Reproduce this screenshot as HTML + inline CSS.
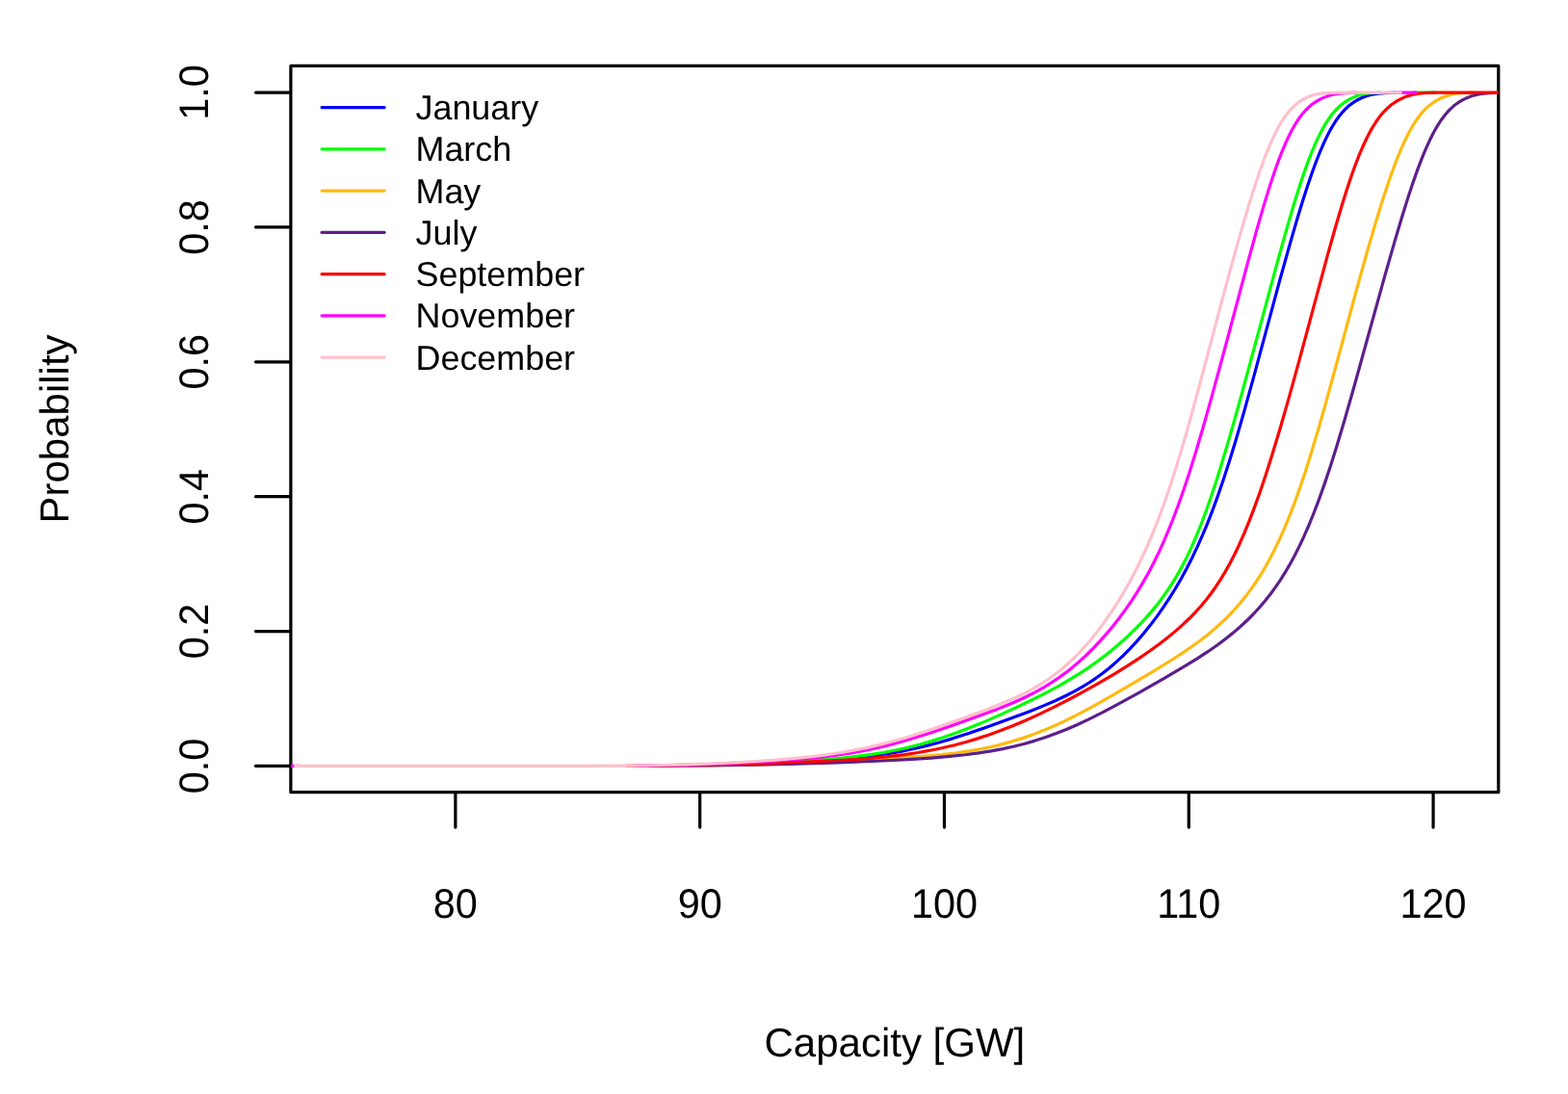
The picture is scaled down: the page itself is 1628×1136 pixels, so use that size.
<!DOCTYPE html>
<html lang="en">
<head>
<meta charset="utf-8">
<title>Capacity probability</title>
<style>
html,body{margin:0;padding:0;background:#fff;}
body{width:1628px;height:1136px;overflow:hidden;}
svg{display:block;}
</style>
</head>
<body>
<svg width="1628" height="1136" viewBox="0 0 1628 1136" font-family="'Liberation Sans', Arial, Helvetica, sans-serif" font-size="42" fill="#000">
<rect x="0" y="0" width="1628" height="1136" fill="#fff"/>
<defs><clipPath id="plotclip"><rect x="301.9" y="68.3" width="1253.9" height="754.4"/></clipPath></defs>
<g clip-path="url(#plotclip)" fill="none" stroke-width="3.2" stroke-linecap="round" stroke-linejoin="round">
<path d="M716.0,794.53 753.0,793.63 795.0,792.19 833.0,790.54 859.0,789.09 878.0,787.70 894.0,786.20 909.0,784.42 923.0,782.38 936.0,780.11 949.0,777.45 962.0,774.39 975.0,770.95 989.0,766.84 1005.0,761.73 1024.0,755.23 1048.0,746.57 1069.0,738.64 1084.0,732.62 1096.0,727.44 1106.0,722.74 1115.0,718.13 1123.0,713.64 1131.0,708.74 1138.0,704.05 1145.0,698.95 1152.0,693.42 1159.0,687.41 1166.0,680.91 1173.0,673.90 1180.0,666.36 1187.0,658.26 1194.0,649.60 1201.0,640.34 1208.0,630.43 1214.0,621.38 1220.0,611.74 1226.0,601.47 1232.0,590.48 1238.0,578.67 1243.0,568.16 1248.0,556.96 1253.0,545.05 1258.0,532.38 1264.0,516.14 1270.0,498.77 1276.0,480.29 1283.0,457.45 1291.0,429.89 1301.0,393.83 1329.0,290.18 1339.0,254.31 1347.0,226.80 1353.0,207.20 1358.0,191.74 1363.0,177.27 1367.0,166.49 1371.0,156.52 1375.0,147.40 1379.0,139.17 1382.0,133.60 1385.0,128.54 1388.0,123.98 1391.0,119.90 1394.0,116.29 1397.0,113.12 1400.0,110.35 1403.0,107.95 1406.0,105.86 1410.0,103.50 1414.0,101.56 1418.0,99.99 1422.0,98.76 1426.0,97.86 1431.0,97.10 1437.0,96.58 1446.0,96.25 1449.0,96.20" stroke="#0000ff"/>
</g>
<g fill="none" stroke="#000" stroke-width="3.2" stroke-linecap="round" stroke-linejoin="round">
<path d="M472.87 823.1V859.1"/>
<path d="M726.67 823.1V859.1"/>
<path d="M980.47 823.1V859.1"/>
<path d="M1234.27 823.1V859.1"/>
<path d="M1488.07 823.1V859.1"/>
<path d="M301.5 795.40H265.5"/>
<path d="M301.5 655.54H265.5"/>
<path d="M301.5 515.68H265.5"/>
<path d="M301.5 375.82H265.5"/>
<path d="M301.5 235.96H265.5"/>
<path d="M301.5 96.10H265.5"/>
<rect x="301.9" y="68.3" width="1253.9" height="754.4"/>
</g>
<g text-anchor="middle" text-rendering="geometricPrecision">
<text transform="translate(472.87 952.9) scale(0.985 1.02)">80</text>
<text transform="translate(726.67 952.9) scale(0.985 1.02)">90</text>
<text transform="translate(980.47 952.9) scale(0.985 1.02)">100</text>
<text transform="translate(1234.27 952.9) scale(0.985 1.02)">110</text>
<text transform="translate(1488.07 952.9) scale(0.985 1.02)">120</text>
<text transform="translate(215.8 795.40) rotate(-90) scale(0.985 1.02)">0.0</text>
<text transform="translate(215.8 655.54) rotate(-90) scale(0.985 1.02)">0.2</text>
<text transform="translate(215.8 515.68) rotate(-90) scale(0.985 1.02)">0.4</text>
<text transform="translate(215.8 375.82) rotate(-90) scale(0.985 1.02)">0.6</text>
<text transform="translate(215.8 235.96) rotate(-90) scale(0.985 1.02)">0.8</text>
<text transform="translate(215.8 96.10) rotate(-90) scale(0.985 1.02)">1.0</text>
<text x="928.85" y="1097">Capacity [GW]</text>
<text transform="translate(70.9 445.50) rotate(-90)">Probability</text>
</g>
<g clip-path="url(#plotclip)" fill="none" stroke-width="3.2" stroke-linecap="round" stroke-linejoin="round">
<path d="M687.0,794.90 722.0,794.22 760.0,793.05 808.0,791.15 838.0,789.66 859.0,788.28 876.0,786.83 891.0,785.21 905.0,783.33 918.0,781.23 931.0,778.74 943.0,776.07 955.0,773.02 967.0,769.60 979.0,765.80 992.0,761.28 1006.0,755.98 1021.0,749.86 1037.0,742.90 1055.0,734.64 1072.0,726.44 1087.0,718.82 1100.0,711.81 1111.0,705.47 1121.0,699.31 1130.0,693.38 1139.0,687.04 1148.0,680.24 1157.0,672.96 1165.0,666.06 1173.0,658.71 1181.0,650.86 1188.0,643.52 1195.0,635.64 1201.0,628.37 1207.0,620.51 1212.0,613.45 1217.0,605.82 1222.0,597.57 1227.0,588.61 1232.0,578.88 1237.0,568.31 1242.0,556.86 1247.0,544.50 1252.0,531.23 1257.0,517.06 1263.0,498.95 1269.0,479.74 1276.0,456.16 1285.0,424.44 1298.0,376.94 1326.0,273.18 1335.0,240.83 1342.0,216.76 1348.0,197.27 1353.0,182.09 1358.0,168.07 1362.0,157.78 1366.0,148.38 1370.0,139.91 1373.0,134.17 1376.0,128.96 1379.0,124.26 1382.0,120.06 1385.0,116.34 1388.0,113.07 1391.0,110.21 1394.0,107.72 1397.0,105.56 1401.0,103.12 1405.0,101.11 1409.0,99.50 1413.0,98.27 1417.0,97.41 1422.0,96.74 1428.0,96.34 1433.0,96.20M1467.0,96.10 1490.0,96.10" stroke="#00ff00"/>
<path d="M772.0,794.30 804.0,793.35 841.0,791.82 905.0,788.60 940.0,786.58 961.0,785.06 978.0,783.48 993.0,781.73 1006.0,779.84 1018.0,777.75 1029.0,775.48 1040.0,772.84 1051.0,769.82 1062.0,766.37 1072.0,762.87 1083.0,758.61 1094.0,753.94 1105.0,748.88 1117.0,742.95 1131.0,735.58 1147.0,726.70 1169.0,713.98 1197.0,697.32 1215.0,686.25 1228.0,677.85 1238.0,671.00 1247.0,664.42 1255.0,658.15 1262.0,652.25 1269.0,645.91 1276.0,639.05 1282.0,632.68 1288.0,625.80 1294.0,618.34 1299.0,611.62 1304.0,604.40 1309.0,596.62 1314.0,588.23 1319.0,579.18 1324.0,569.41 1329.0,558.88 1334.0,547.54 1339.0,535.36 1344.0,522.32 1349.0,508.43 1355.0,490.65 1361.0,471.73 1368.0,448.39 1376.0,420.33 1388.0,376.49 1408.0,302.53 1419.0,263.09 1427.0,235.57 1434.0,212.62 1440.0,194.09 1445.0,179.64 1450.0,166.25 1454.0,156.40 1458.0,147.37 1462.0,139.21 1465.0,133.66 1468.0,128.62 1471.0,124.06 1474.0,119.98 1477.0,116.36 1480.0,113.18 1483.0,110.39 1486.0,107.96 1489.0,105.85 1493.0,103.47 1497.0,101.50 1501.0,99.90 1505.0,98.67 1509.0,97.76 1514.0,97.00 1520.0,96.51 1529.0,96.21 1530.0,96.20" stroke="#ffb90f"/>
<path d="M674.0,795.24 736.0,794.86 784.0,794.21 827.0,793.26 870.0,791.91 911.0,790.25 943.0,788.61 967.0,787.03 986.0,785.44 1002.0,783.76 1016.0,781.95 1029.0,779.90 1041.0,777.66 1052.0,775.26 1063.0,772.50 1074.0,769.35 1085.0,765.79 1096.0,761.82 1107.0,757.45 1118.0,752.69 1130.0,747.10 1144.0,740.12 1160.0,731.67 1182.0,719.54 1210.0,703.62 1229.0,692.47 1243.0,683.86 1254.0,676.70 1264.0,669.74 1273.0,663.02 1281.0,656.59 1288.0,650.53 1295.0,644.02 1301.0,638.00 1307.0,631.53 1313.0,624.55 1319.0,616.98 1324.0,610.16 1329.0,602.83 1334.0,594.94 1339.0,586.43 1344.0,577.25 1349.0,567.36 1354.0,556.70 1359.0,545.25 1364.0,532.98 1369.0,519.90 1375.0,503.12 1381.0,485.23 1388.0,463.07 1396.0,436.31 1406.0,401.28 1437.0,289.39 1448.0,250.86 1456.0,224.01 1462.0,204.87 1467.0,189.78 1472.0,175.65 1476.0,165.15 1480.0,155.42 1484.0,146.54 1488.0,138.52 1491.0,133.09 1494.0,128.15 1497.0,123.70 1500.0,119.72 1503.0,116.19 1506.0,113.08 1509.0,110.36 1512.0,107.99 1515.0,105.92 1519.0,103.59 1523.0,101.65 1527.0,100.08 1531.0,98.84 1535.0,97.91 1540.0,97.13 1546.0,96.59 1555.0,96.24 1560.8,96.16" stroke="#5c1f8c"/>
<path d="M651.0,795.26 699.0,794.89 740.0,794.19 783.0,793.06 831.0,791.39 864.0,789.92 888.0,788.52 907.0,787.07 924.0,785.40 939.0,783.57 953.0,781.49 966.0,779.20 979.0,776.53 991.0,773.69 1003.0,770.48 1015.0,766.89 1027.0,762.92 1039.0,758.57 1052.0,753.46 1065.0,747.94 1079.0,741.60 1094.0,734.38 1110.0,726.24 1126.0,717.69 1142.0,708.71 1157.0,699.87 1171.0,691.18 1183.0,683.33 1194.0,675.75 1204.0,668.45 1213.0,661.47 1221.0,654.86 1228.0,648.67 1235.0,642.02 1241.0,635.87 1247.0,629.21 1252.0,623.21 1257.0,616.74 1262.0,609.74 1267.0,602.14 1272.0,593.89 1277.0,584.93 1282.0,575.21 1287.0,564.70 1292.0,553.36 1297.0,541.19 1302.0,528.18 1308.0,511.51 1314.0,493.75 1321.0,471.76 1329.0,445.22 1338.0,413.89 1349.0,374.10 1378.0,266.42 1386.0,237.77 1393.0,213.95 1398.0,197.94 1403.0,182.96 1407.0,171.81 1411.0,161.49 1415.0,152.03 1419.0,143.47 1422.0,137.64 1425.0,132.31 1428.0,127.49 1431.0,123.14 1434.0,119.26 1437.0,115.81 1440.0,112.77 1443.0,110.11 1446.0,107.78 1450.0,105.13 1454.0,102.93 1458.0,101.10 1462.0,99.61 1466.0,98.47 1470.0,97.62 1475.0,96.93 1481.0,96.47 1491.0,96.19 1538.0,96.10 1560.8,96.10" stroke="#ff0000"/>
<path d="M296.9,795.40 310.0,795.40M660.0,795.07 697.0,794.55 729.0,793.74 760.0,792.58 790.0,791.08 815.0,789.49 836.0,787.80 853.0,786.09 868.0,784.24 882.0,782.15 895.0,779.85 908.0,777.18 921.0,774.12 934.0,770.69 949.0,766.31 966.0,760.92 989.0,753.14 1016.0,743.58 1034.0,736.88 1047.0,731.70 1058.0,726.95 1067.0,722.73 1076.0,718.10 1084.0,713.60 1092.0,708.68 1099.0,703.98 1106.0,698.89 1113.0,693.39 1120.0,687.46 1127.0,681.08 1134.0,674.24 1141.0,666.92 1148.0,659.12 1155.0,650.79 1162.0,641.90 1169.0,632.38 1175.0,623.67 1181.0,614.36 1187.0,604.39 1193.0,593.66 1198.0,584.07 1203.0,573.83 1208.0,562.89 1213.0,551.21 1218.0,538.75 1223.0,525.48 1229.0,508.51 1235.0,490.41 1242.0,467.97 1249.0,444.30 1258.0,412.41 1270.0,368.22 1296.0,270.84 1305.0,238.17 1312.0,213.92 1318.0,194.36 1323.0,179.19 1327.0,167.93 1331.0,157.54 1335.0,148.07 1338.0,141.61 1341.0,135.69 1344.0,130.32 1347.0,125.49 1350.0,121.18 1353.0,117.37 1356.0,114.02 1359.0,111.11 1362.0,108.58 1365.0,106.40 1368.0,104.51 1372.0,102.38 1376.0,100.65 1380.0,99.27 1384.0,98.23 1389.0,97.34 1395.0,96.71 1403.0,96.32 1409.0,96.20M1451.0,96.10 1470.3,96.10" stroke="#ff00ff"/>
<path d="M306.5,795.40 601.0,795.33 652.0,795.04 688.0,794.50 719.0,793.68 749.0,792.49 777.0,791.02 802.0,789.35 823.0,787.61 841.0,785.79 857.0,783.82 872.0,781.62 886.0,779.19 900.0,776.37 913.0,773.37 927.0,769.76 941.0,765.75 957.0,760.76 976.0,754.38 1000.0,745.87 1022.0,737.72 1037.0,731.84 1049.0,726.79 1059.0,722.19 1068.0,717.65 1076.0,713.20 1083.0,708.92 1090.0,704.22 1097.0,699.06 1103.0,694.23 1109.0,689.00 1115.0,683.35 1121.0,677.25 1127.0,670.71 1133.0,663.70 1140.0,654.92 1147.0,645.48 1154.0,635.35 1160.0,626.08 1166.0,616.23 1172.0,605.74 1178.0,594.54 1184.0,582.55 1190.0,569.67 1195.0,558.19 1200.0,545.97 1205.0,532.97 1210.0,519.15 1216.0,501.46 1222.0,482.61 1229.0,459.23 1237.0,430.96 1247.0,393.98 1270.0,307.13 1281.0,266.83 1290.0,235.13 1297.0,211.63 1303.0,192.58 1308.0,177.72 1313.0,163.96 1317.0,153.86 1321.0,144.65 1324.0,138.35 1327.0,132.59 1330.0,127.36 1333.0,122.68 1336.0,118.51 1339.0,114.85 1342.0,111.65 1345.0,108.88 1348.0,106.49 1351.0,104.43 1354.0,102.65 1358.0,100.68 1362.0,99.15 1366.0,98.01 1370.0,97.24 1375.0,96.66 1382.0,96.28 1397.0,96.11 1454.3,96.10" stroke="#ffc0cb"/>
</g>
<g font-size="35.9" text-rendering="geometricPrecision">
<path d="M334.1 111.60H399.1" stroke="#0000ff" stroke-width="3.2" stroke-linecap="round" fill="none"/>
<text x="431.5" y="124.20">January</text>
<path d="M334.1 154.84H399.1" stroke="#00ff00" stroke-width="3.2" stroke-linecap="round" fill="none"/>
<text x="431.5" y="167.44">March</text>
<path d="M334.1 198.08H399.1" stroke="#ffb90f" stroke-width="3.2" stroke-linecap="round" fill="none"/>
<text x="431.5" y="210.68">May</text>
<path d="M334.1 241.32H399.1" stroke="#5c1f8c" stroke-width="3.2" stroke-linecap="round" fill="none"/>
<text x="431.5" y="253.92">July</text>
<path d="M334.1 284.56H399.1" stroke="#ff0000" stroke-width="3.2" stroke-linecap="round" fill="none"/>
<text x="431.5" y="297.16">September</text>
<path d="M334.1 327.80H399.1" stroke="#ff00ff" stroke-width="3.2" stroke-linecap="round" fill="none"/>
<text x="431.5" y="340.40">November</text>
<path d="M334.1 371.04H399.1" stroke="#ffc0cb" stroke-width="3.2" stroke-linecap="round" fill="none"/>
<text x="431.5" y="383.64">December</text>
</g>
</svg>
</body>
</html>
